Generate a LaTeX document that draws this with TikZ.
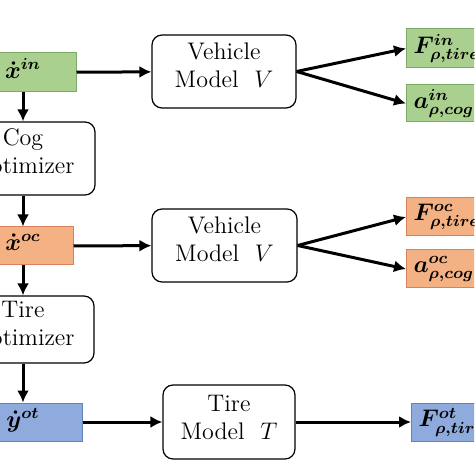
\documentclass[tikz,border=0pt]{standalone}
\usepackage{amsmath,bm}
\usetikzlibrary{arrows.meta}
\definecolor{gfill}{RGB}{169,208,142}
\definecolor{gdraw}{RGB}{125,170,100}
\definecolor{ofill}{RGB}{244,177,131}
\definecolor{odraw}{RGB}{215,130,90}
\definecolor{bfill}{RGB}{143,170,220}
\definecolor{bdraw}{RGB}{100,130,185}
\newcommand{\xdep}[1]{\rule[-#1]{0pt}{#1}}
\tikzset{
  base/.style={font=\fontsize{12}{14}\selectfont, inner sep=0pt, align=center},
  procbox/.style={base, draw=black, line width=0.6pt, rounded corners=5pt},
  sigbox/.style={base, line width=0.5pt, text depth=4pt},
  outbox/.style={base, line width=0.5pt, anchor=west, text width=48pt, align=left, inner xsep=3.5pt},
  conn/.style={line width=1.5pt, -{Latex[length=6pt,width=6pt]}},
}
\begin{document}
\begin{tikzpicture}[x=0.5pt,y=-0.5pt]
\useasboundingbox (0,0) rectangle (474,474);
\clip (0,0) rectangle (474,474);
\fill[white] (0,0) rectangle (474,474);
% left column
\node[sigbox, fill=gfill, draw=gdraw, minimum width=53pt, minimum height=19.5pt] (xin) at (23,72.5) {$\bm{\dot{x}^{in}}$};
\node[procbox, minimum width=72pt, minimum height=36.5pt] (cog) at (23,158.5) {Cog\\Optimizer\xdep{7pt}};
\node[sigbox, fill=ofill, draw=odraw, minimum width=50pt, minimum height=19pt] (xoc) at (23,246) {$\bm{\dot{x}^{oc}}$};
\node[procbox, minimum width=71pt, minimum height=33.5pt] (tir) at (23,329.5) {Tire\\Optimizer\xdep{6pt}};
\node[sigbox, fill=bfill, draw=bdraw, minimum width=59pt, minimum height=19pt] (yot) at (23,422) {$\bm{\dot{y}^{ot}}$};
% models
\node[procbox, minimum width=72pt, minimum height=36.5pt] (vm1) at (224,71.5) {Vehicle\\Model\ \ $V$\xdep{6pt}};
\node[procbox, minimum width=72.5pt, minimum height=36.5pt] (vm2) at (224.5,245.5) {Vehicle\\Model\ \ $V$\xdep{6pt}};
\node[procbox, minimum width=66pt, minimum height=37pt] (tm) at (229,422) {Tire\\Model\ \ $T$\xdep{5pt}};
% outputs
\node[outbox, fill=gfill, draw=gdraw, minimum height=19.5pt] (fin) at (406,48.5) {$\bm{F^{in}_{\rho,tire}}$};
\node[outbox, fill=gfill, draw=gdraw, minimum height=18.5pt] (ain) at (406,103.5) {$\bm{a^{in}_{\rho,cog}}$};
\node[outbox, fill=ofill, draw=odraw, minimum height=19pt] (foc) at (406,217) {$\bm{F^{oc}_{\rho,tire}}$};
\node[outbox, fill=ofill, draw=odraw, minimum height=19pt] (aoc) at (406,269) {$\bm{a^{oc}_{\rho,cog}}$};
\node[outbox, fill=bfill, draw=bdraw, minimum height=19pt] (fot) at (411,422) {$\bm{F^{ot}_{\rho,tire}}$};
% connectors
\draw[conn] (xin) -- (cog);
\draw[conn] (cog) -- (xoc);
\draw[conn] (xoc) -- (tir);
\draw[conn] (tir) -- (yot);
\draw[conn] (xin) -- (vm1);
\draw[conn] (xoc) -- (vm2);
\draw[conn] (yot) -- (tm);
\draw[conn] (vm1.east) -- (fin.west);
\draw[conn] (vm1.east) -- (ain.west);
\draw[conn] (vm2.east) -- (foc.west);
\draw[conn] (vm2.east) -- (aoc.west);
\draw[conn] (tm) -- (fot);
\end{tikzpicture}
\end{document}
